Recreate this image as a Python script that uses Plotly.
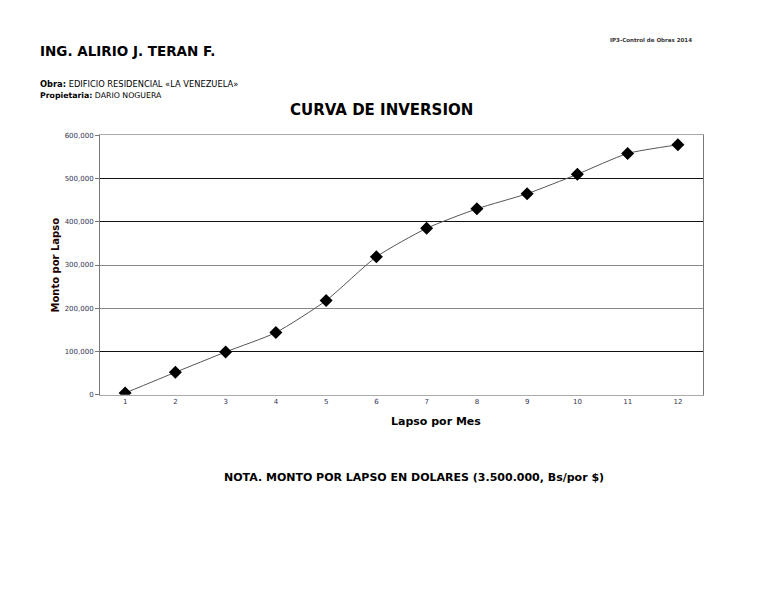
import plotly.graph_objects as go

# Curva de inversion - monto acumulado por mes
meses = [1, 2, 3, 4, 5, 6, 7, 8, 9, 10, 11, 12]
montos = [4000, 52000, 99000, 144000, 218000, 319000,
          385000, 430000, 465000, 510000, 558000, 578000]
y_ticks = [0, 100000, 200000, 300000, 400000, 500000, 600000]
y_labels = ["0", "100,000", "200,000", "300,000", "400,000", "500,000", "600,000"]
dark_grid = [100000, 400000, 500000]  # lines drawn darker in the original

font = "DejaVu Sans"
W, H = 768, 594
OFF = 8  # page body margin pushes the figure 8px right/down


def px(x):
    return (x - OFF) / W


def py(y):
    return 1 - (y - OFF) / H


fig = go.Figure()

fig.add_trace(go.Scatter(
    x=meses, y=montos,
    mode="lines+markers",
    line=dict(color="#555555", width=1, shape="spline", smoothing=0.6),
    marker=dict(symbol="diamond", size=10, color="black"),
    showlegend=False,
))

# invisible trace on an overlay axis, just to draw the darker grid lines
fig.add_trace(go.Scatter(x=[meses[0]], y=[montos[0]], yaxis="y2",
                         mode="markers", marker=dict(opacity=0),
                         showlegend=False, hoverinfo="skip"))

fig.update_layout(
    width=W, height=H,
    paper_bgcolor="white", plot_bgcolor="white",
    margin=dict(l=0, r=0, t=0, b=0),
    font=dict(family=font, color="black"),
    xaxis=dict(
        domain=[px(100), px(703)],
        range=[0.5, 12.5],
        tickvals=meses,
        tickfont=dict(size=7, color="#333355"),
        showgrid=False, zeroline=False,
        showline=True, linecolor="#aaaaaa", linewidth=1, mirror=True,
        ticks="", ticklen=0,
    ),
    yaxis=dict(
        domain=[py(396), py(133)],
        range=[0, 600000],
        tickvals=y_ticks, ticktext=y_labels,
        tickfont=dict(size=7, color="#333355"),
        showgrid=True, gridcolor="#888888", gridwidth=1,
        zeroline=False,
        showline=True, linecolor="#777777", linewidth=1, mirror=True,
        ticks="outside", ticklen=4, tickcolor="#777777",
    ),
    yaxis2=dict(
        overlaying="y", range=[0, 600000],
        tickvals=dark_grid, showticklabels=False,
        showgrid=True, gridcolor="#111111", gridwidth=1,
        zeroline=False, showline=False,
    ),
)

ann = [
    dict(text="<b>CURVA DE INVERSION</b>", x=381, y=107, size=15),
    dict(text="<b>Lapso por Mes</b>", x=436, y=423, size=11),
    dict(text="<b>NOTA. MONTO POR LAPSO EN DOLARES (3.500.000, Bs/por $)</b>",
         x=414, y=480, size=11),
]
for a in ann:
    fig.add_annotation(text=a["text"], x=px(a["x"]), y=py(a["y"]),
                       xref="paper", yref="paper", showarrow=False,
                       xanchor="center", yanchor="middle",
                       font=dict(size=a["size"], family=font, color="black"))

# header text, left aligned
left = [
    ("<b>ING. ALIRIO J. TERAN F.</b>", 38, 48, 13.5),
    ("<b>Obra:</b> EDIFICIO RESIDENCIAL \u00abLA VENEZUELA\u00bb", 38, 81, 8.3),
    ("<b>Propietaria:</b> DARIO NOGUERA", 38, 93, 7.8),
]
for txt, x, y, s in left:
    fig.add_annotation(text=txt, x=px(x), y=py(y),
                       xref="paper", yref="paper", showarrow=False,
                       xanchor="left", yanchor="middle",
                       font=dict(size=s, family=font, color="black"))

fig.add_annotation(text="<b>IP3-Control de Obras 2014</b>", x=px(694), y=py(36),
                   xref="paper", yref="paper", showarrow=False,
                   xanchor="right", yanchor="middle",
                   font=dict(size=5.5, family=font, color="#333333"))

fig.add_annotation(text="<b>Monto por Lapso</b>", x=px(56), y=py(265),
                   xref="paper", yref="paper", showarrow=False, textangle=-90,
                   xanchor="center", yanchor="middle",
                   font=dict(size=10, family=font, color="#220000"))

fig.write_html("out.html")
